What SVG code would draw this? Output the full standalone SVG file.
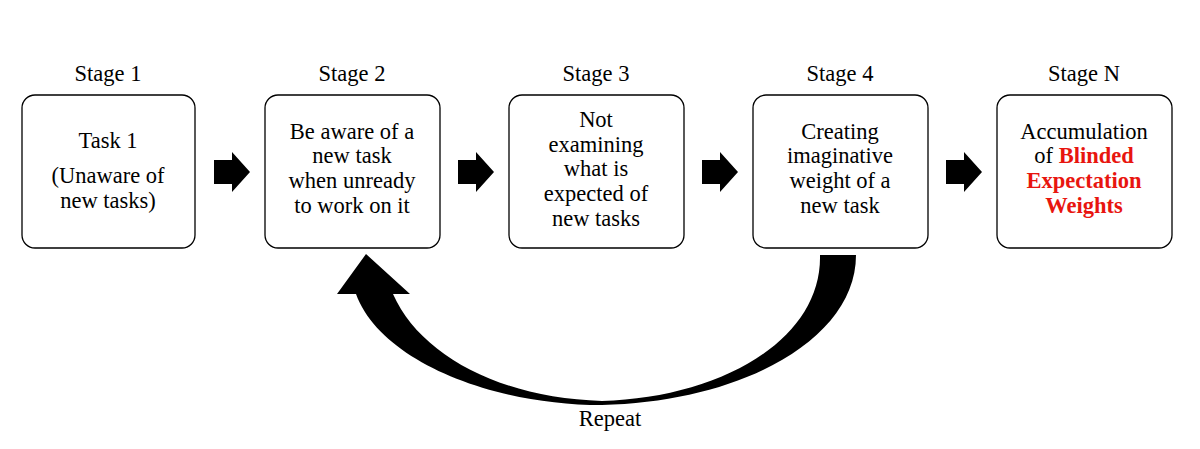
<svg xmlns="http://www.w3.org/2000/svg" width="1200" height="449" viewBox="0 0 1200 449">
<style>
text{font-family:"Liberation Serif",serif;font-size:22.5px;fill:#000;text-anchor:middle}
.box{fill:#fff;stroke:#000;stroke-width:1.3}
.red{fill:#e8150f;font-weight:bold}
</style>
<defs>
<path id="ba" d="M0,8 H18 V0 L36,20 L18,40 V32 H0 Z" fill="#000"/>
</defs>
<rect width="1200" height="449" fill="#fff"/>
<g id="n1"><text x="108" y="81">Stage 1</text><rect class="box" x="22" y="95" width="173" height="153" rx="13"/><text x="108" y="148">Task 1</text><text x="108" y="183">(Unaware of</text><text x="108" y="208">new tasks)</text></g>
<g id="n2"><text x="352" y="81">Stage 2</text><rect class="box" x="265" y="95" width="175" height="153" rx="13"/><text x="352" y="139">Be aware of a</text><text x="352" y="163">new task</text><text x="352" y="188">when unready</text><text x="352" y="213">to work on it</text></g>
<g id="n3"><text x="596" y="81">Stage 3</text><rect class="box" x="509" y="95" width="175" height="153" rx="13"/><text x="596" y="127">Not</text><text x="596" y="152">examining</text><text x="596" y="176">what is</text><text x="596" y="201">expected of</text><text x="596" y="226">new tasks</text></g>
<g id="n4"><text x="840" y="81">Stage 4</text><rect class="box" x="753" y="95" width="175" height="153" rx="13"/><text x="840" y="139">Creating</text><text x="840" y="163">imaginative</text><text x="840" y="188">weight of a</text><text x="840" y="213">new task</text></g>
<g id="n5"><text x="1084" y="81">Stage N</text><rect class="box" x="997" y="95" width="175" height="153" rx="13"/><text x="1084" y="139">Accumulation</text><text x="1084" y="163">of <tspan class="red">Blinded</tspan></text><text x="1084" y="188" class="red">Expectation</text><text x="1084" y="213" class="red">Weights</text></g>
<g id="connectors">
<use href="#ba" x="214" y="152"/>
<use href="#ba" x="458" y="152"/>
<use href="#ba" x="702" y="152"/>
<use href="#ba" x="946" y="152"/>
<path d="M856,255 C856,340 740,402 602,405 C490,405 380,360 356,294 L337,294 L366,254 L410,294 L393,294 C420,355 500,398 602,401 C720,398 822,340 820,255 Z" fill="#000"/>
<text x="610" y="426">Repeat</text>
</g>
</svg>
